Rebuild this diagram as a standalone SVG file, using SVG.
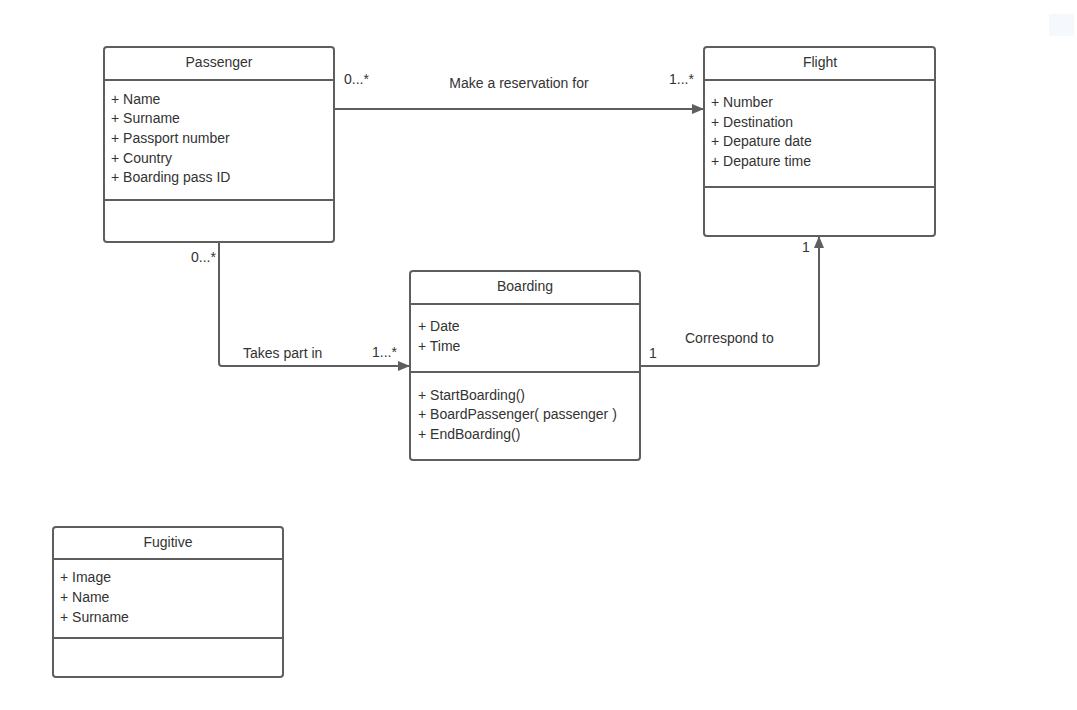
<svg xmlns="http://www.w3.org/2000/svg" width="1077" height="710" viewBox="0 0 1077 710">
<defs>
<style>
.box{fill:#fff;stroke:#5e5e5e;stroke-width:2}
.div{stroke:#5e5e5e;stroke-width:2}
.t{font-family:"Liberation Sans",Arial,sans-serif;font-size:14px;fill:#333}
.c{text-anchor:middle}
.con{fill:none;stroke:#5e5e5e;stroke-width:2}
</style>
<marker id="arr" viewBox="0 0 12 10" refX="11" refY="5" markerWidth="12" markerHeight="10" markerUnits="userSpaceOnUse" orient="auto">
<path d="M0,0 L12,5 L0,10 Z" fill="#5e5e5e"/>
</marker>
</defs>
<rect width="1077" height="710" fill="#fff"/>
<rect x="1049" y="14" width="25" height="22" fill="#f5f8fd"/>
<g id="connectors">
<path class="con" d="M334,109 H703" marker-end="url(#arr)"/>
<path class="con" d="M219,242 V363 Q219,366 222,366 H409" marker-end="url(#arr)"/>
<path class="con" d="M640,366 H816 Q819,366 819,363 V237" marker-end="url(#arr)"/>
<text class="t" x="344" y="84">0...*</text>
<text class="t c" x="519" y="88">Make a reservation for</text>
<text class="t" x="669" y="84">1...*</text>
<text class="t" x="191" y="262">0...*</text>
<text class="t" x="243" y="358">Takes part in</text>
<text class="t" x="372" y="357">1...*</text>
<text class="t" x="649" y="358">1</text>
<text class="t" x="685" y="343">Correspond to</text>
<text class="t" x="802" y="252">1</text>
</g>
<g id="passenger">
<rect class="box" x="104" y="47" width="230" height="195" rx="3"/>
<line class="div" x1="104" y1="80" x2="334" y2="80"/>
<line class="div" x1="104" y1="200" x2="334" y2="200"/>
<text class="t c" x="219" y="67">Passenger</text>
<text class="t" x="111" y="104">+ Name</text>
<text class="t" x="111" y="123">+ Surname</text>
<text class="t" x="111" y="143">+ Passport number</text>
<text class="t" x="111" y="163">+ Country</text>
<text class="t" x="111" y="182">+ Boarding pass ID</text>
</g>
<g id="flight">
<rect class="box" x="704" y="47" width="231" height="189" rx="3"/>
<line class="div" x1="704" y1="80" x2="935" y2="80"/>
<line class="div" x1="704" y1="187" x2="935" y2="187"/>
<text class="t c" x="820" y="67">Flight</text>
<text class="t" x="711" y="107">+ Number</text>
<text class="t" x="711" y="127">+ Destination</text>
<text class="t" x="711" y="146">+ Depature date</text>
<text class="t" x="711" y="166">+ Depature time</text>
</g>
<g id="boarding">
<rect class="box" x="410" y="271" width="230" height="189" rx="3"/>
<line class="div" x1="410" y1="304" x2="640" y2="304"/>
<line class="div" x1="410" y1="372" x2="640" y2="372"/>
<text class="t c" x="525" y="291">Boarding</text>
<text class="t" x="418" y="331">+ Date</text>
<text class="t" x="418" y="351">+ Time</text>
<text class="t" x="418" y="400">+ StartBoarding()</text>
<text class="t" x="418" y="419">+ BoardPassenger( passenger )</text>
<text class="t" x="418" y="439">+ EndBoarding()</text>
</g>
<g id="fugitive">
<rect class="box" x="53" y="527" width="230" height="150" rx="3"/>
<line class="div" x1="53" y1="559" x2="283" y2="559"/>
<line class="div" x1="53" y1="638" x2="283" y2="638"/>
<text class="t c" x="168" y="547">Fugitive</text>
<text class="t" x="60" y="582">+ Image</text>
<text class="t" x="60" y="602">+ Name</text>
<text class="t" x="60" y="622">+ Surname</text>
</g>
</svg>
